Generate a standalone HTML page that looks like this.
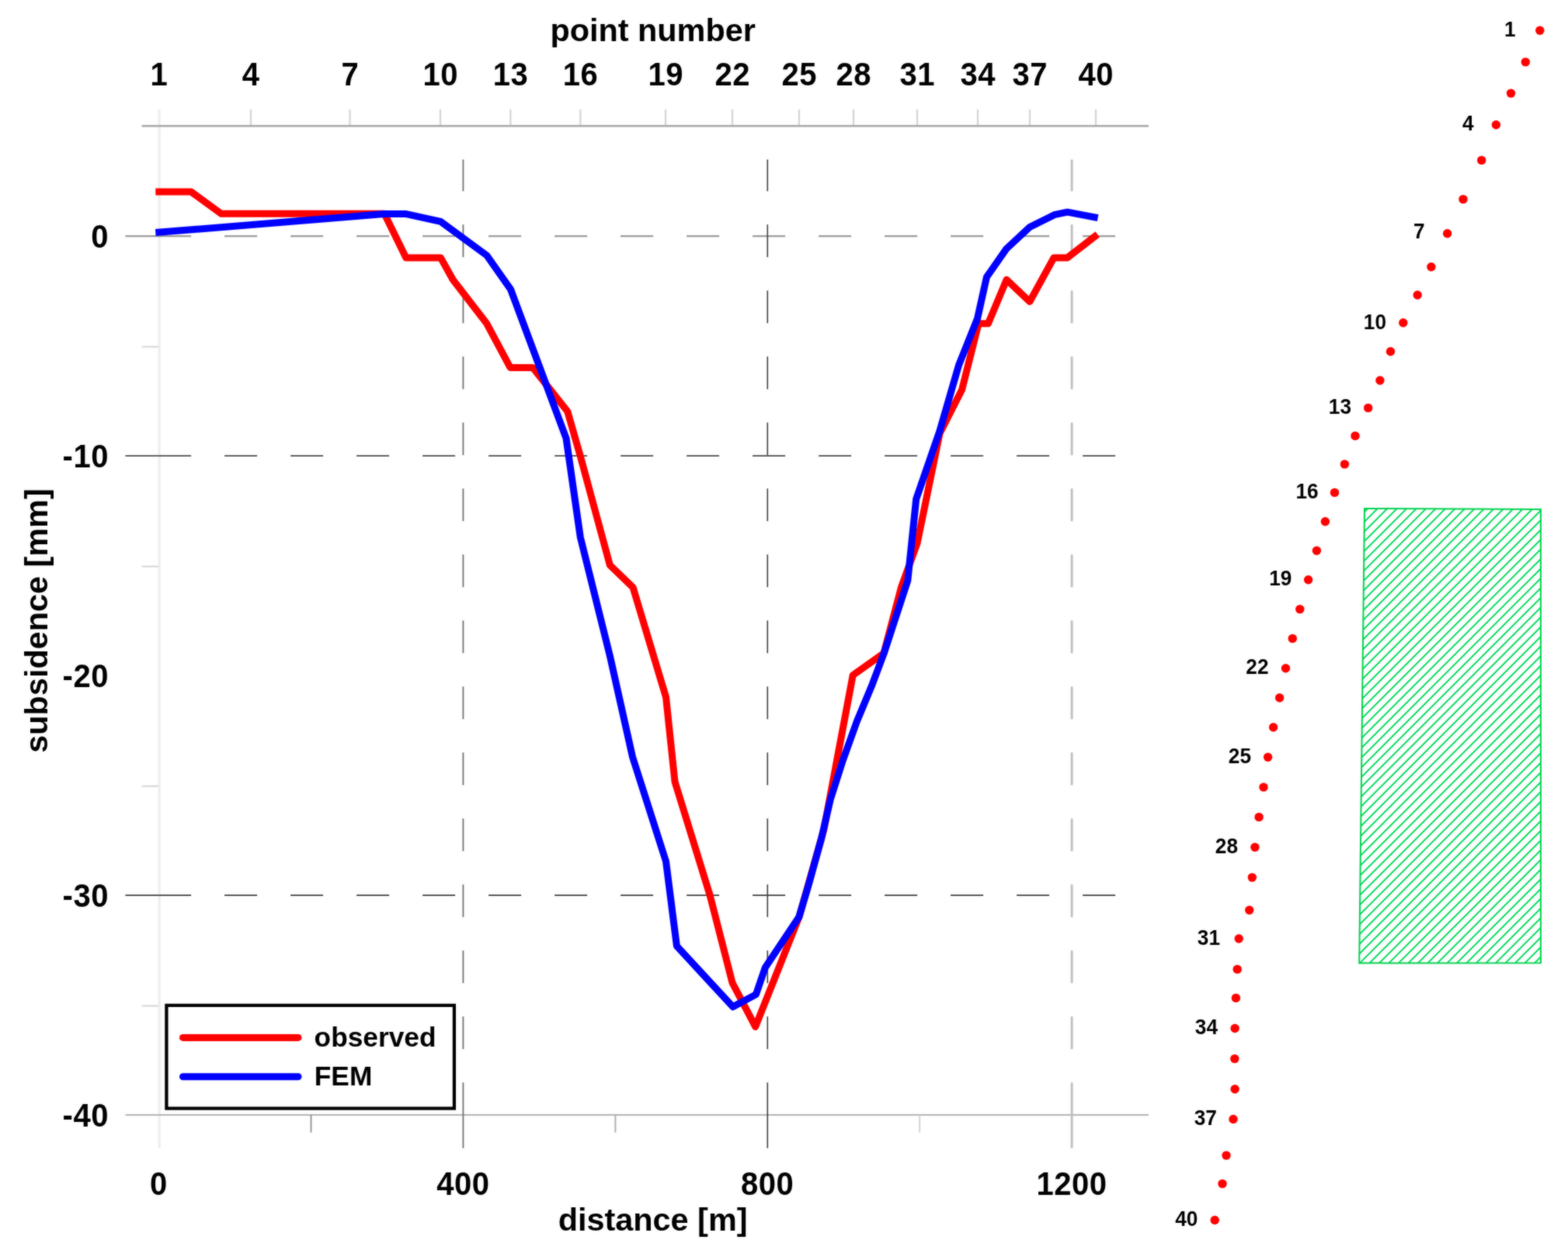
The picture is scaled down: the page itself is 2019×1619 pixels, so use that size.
<!DOCTYPE html>
<html lang="en"><head><meta charset="utf-8"><title>Subsidence profile: observed vs FEM</title>
<style>
html,body{margin:0;padding:0;background:#fff;}
body{width:2019px;height:1619px;overflow:hidden;}
svg{display:block;}
.soft{filter:blur(1px);opacity:0.5;}
text{font-family:"Liberation Sans",Arial,Helvetica,sans-serif;font-weight:bold;fill:#000;}
.tk{font-size:40px;letter-spacing:0.5px;}
.ttl{font-size:41.4px;}
.lg{font-size:35.3px;}
.pl{font-size:26.2px;}
</style></head><body>
<svg xmlns="http://www.w3.org/2000/svg" width="2019" height="1619" viewBox="0 0 2019 1619">
<g id="fig">
<rect x="0" y="0" width="2019" height="1619" fill="#fff"/>
<g fill="none" stroke-linecap="butt">
<line x1="205.2" y1="141" x2="205.2" y2="1478.8" stroke="#eeeeee" stroke-width="3.2"/>
<line x1="323" y1="141" x2="323" y2="162.3" stroke="#d4d4d4" stroke-width="2.2"/>
<line x1="450.5" y1="141" x2="450.5" y2="162.3" stroke="#d4d4d4" stroke-width="2.2"/>
<line x1="567" y1="141" x2="567" y2="162.3" stroke="#d4d4d4" stroke-width="2.2"/>
<line x1="657.3" y1="141" x2="657.3" y2="162.3" stroke="#d4d4d4" stroke-width="2.2"/>
<line x1="747.3" y1="141" x2="747.3" y2="162.3" stroke="#d4d4d4" stroke-width="2.2"/>
<line x1="857" y1="141" x2="857" y2="162.3" stroke="#d4d4d4" stroke-width="2.2"/>
<line x1="943" y1="141" x2="943" y2="162.3" stroke="#d4d4d4" stroke-width="2.2"/>
<line x1="1029" y1="141" x2="1029" y2="162.3" stroke="#d4d4d4" stroke-width="2.2"/>
<line x1="1099" y1="141" x2="1099" y2="162.3" stroke="#d4d4d4" stroke-width="2.2"/>
<line x1="1181" y1="141" x2="1181" y2="162.3" stroke="#d4d4d4" stroke-width="2.2"/>
<line x1="1259" y1="141" x2="1259" y2="162.3" stroke="#d4d4d4" stroke-width="2.2"/>
<line x1="1326" y1="141" x2="1326" y2="162.3" stroke="#d4d4d4" stroke-width="2.2"/>
<line x1="1411" y1="141" x2="1411" y2="162.3" stroke="#d4d4d4" stroke-width="2.2"/>
<line x1="182.6" y1="162.3" x2="1479" y2="162.3" stroke="#a6a6a6" stroke-width="2.4"/>
<line x1="161.5" y1="1436.0" x2="1479" y2="1436.0" stroke="#b4b4b4" stroke-width="1.8"/>
<line x1="182.6" y1="446.6" x2="204" y2="446.6" stroke="#d6d6d6" stroke-width="2"/>
<line x1="182.6" y1="729.6" x2="204" y2="729.6" stroke="#d6d6d6" stroke-width="2"/>
<line x1="182.6" y1="1012.6" x2="204" y2="1012.6" stroke="#d6d6d6" stroke-width="2"/>
<line x1="182.6" y1="1295.6" x2="204" y2="1295.6" stroke="#d6d6d6" stroke-width="2"/>
<line x1="161.5" y1="304.2" x2="204.2" y2="304.2" stroke="#9a9a9a" stroke-width="2.2"/>
<line x1="161.5" y1="587.2" x2="204.2" y2="587.2" stroke="#4a4a4a" stroke-width="1.7"/>
<line x1="161.5" y1="1153.2" x2="204.2" y2="1153.2" stroke="#3c3c3c" stroke-width="1.7"/>
<line x1="400.5" y1="1436.0" x2="400.5" y2="1458.6" stroke="#8c8c8c" stroke-width="1.8"/>
<line x1="792.4" y1="1436.0" x2="792.4" y2="1458.6" stroke="#a8a8a8" stroke-width="1.8"/>
<line x1="1184.2" y1="1436.0" x2="1184.2" y2="1458.6" stroke="#d0d0d0" stroke-width="1.8"/>
<line x1="596.4" y1="1436.0" x2="596.4" y2="1478.8" stroke="#707070" stroke-width="1.8"/>
<line x1="988.3" y1="1436.0" x2="988.3" y2="1478.8" stroke="#3c3c3c" stroke-width="1.6"/>
<line x1="1380.1" y1="1436.0" x2="1380.1" y2="1478.8" stroke="#bdbdbd" stroke-width="2.8"/>
<line x1="204.1" y1="304.2" x2="1436.1" y2="304.2" stroke="#9a9a9a" stroke-width="2.2" stroke-dasharray="42 43"/>
<line x1="204.1" y1="587.2" x2="1436.1" y2="587.2" stroke="#4a4a4a" stroke-width="1.7" stroke-dasharray="42 43"/>
<line x1="204.1" y1="1153.2" x2="1436.1" y2="1153.2" stroke="#3c3c3c" stroke-width="1.7" stroke-dasharray="42 43"/>
<line x1="596.4" y1="1436.2" x2="596.4" y2="205.5" stroke="#707070" stroke-width="1.8" stroke-dasharray="42 43"/>
<line x1="988.3" y1="1436.2" x2="988.3" y2="205.5" stroke="#3c3c3c" stroke-width="1.6" stroke-dasharray="42 43"/>
<line x1="1380.1" y1="1436.2" x2="1380.1" y2="205.5" stroke="#bdbdbd" stroke-width="2.8" stroke-dasharray="42 43"/>
</g>
<polyline points="200.3,247.0 246.0,247.0 285.0,275.3 495.0,275.3 522.8,331.9 567.4,331.9 583.2,360.2 626.8,416.8 657.0,473.4 686.0,473.4 730.8,530.0 747.0,586.6 785.4,728.1 815.0,756.4 857.5,897.9 869.0,1006.9 914.0,1152.6 943.0,1265.8 972.7,1322.4 1029.0,1180.9 1061.0,1067.7 1098.2,869.6 1138.0,841.3 1160.5,756.4 1181.0,699.8 1210.0,558.3 1238.7,501.7 1260.0,416.8 1272.4,416.8 1296.1,360.2 1325.9,388.5 1357.0,331.9 1374.4,331.9 1413.2,301.9" fill="none" stroke="#ff0000" stroke-width="9" stroke-linejoin="round" stroke-linecap="butt"/>
<polyline points="200.3,299.6 495.0,275.6 523.0,275.6 567.4,285.3 626.8,329.0 657.5,372.6 729.0,564.5 747.3,692.0 785.4,845.0 814.5,975.0 857.5,1109.5 871.4,1218.5 943.7,1296.8 973.4,1280.9 985.3,1246.2 1028.9,1180.9 1041.1,1140.0 1057.9,1079.0 1069.3,1029.5 1085.1,980.0 1103.4,929.0 1123.2,881.4 1138.0,842.0 1168.8,747.8 1179.7,642.8 1210.0,555.0 1234.7,469.8 1258.5,410.4 1270.4,356.9 1296.1,320.2 1325.9,292.5 1357.6,276.7 1374.4,273.2 1413.6,280.7" fill="none" stroke="#0000ff" stroke-width="9" stroke-linejoin="round" stroke-linecap="butt"/>
<rect x="214.4" y="1294.9" width="370.5" height="132.7" fill="#fff" stroke="#000" stroke-width="4.2"/>
<line x1="235.5" y1="1336.4" x2="384" y2="1336.4" stroke="#ff0000" stroke-width="9" stroke-linecap="round"/>
<line x1="235.5" y1="1386.8" x2="384" y2="1386.8" stroke="#0000ff" stroke-width="9" stroke-linecap="round"/>
<text class="lg" x="404.6" y="1348">observed</text>
<text class="lg" x="404.8" y="1398.4">FEM</text>
<text class="ttl" x="840.6" y="52.9" text-anchor="middle">point number</text>
<text class="tk" transform="translate(204.8,109.8) scale(1,1.065)" text-anchor="middle">1</text>
<text class="tk" transform="translate(323.2,109.8) scale(1,1.065)" text-anchor="middle">4</text>
<text class="tk" transform="translate(450.8,109.8) scale(1,1.065)" text-anchor="middle">7</text>
<text class="tk" transform="translate(567.2,109.8) scale(1,1.065)" text-anchor="middle">10</text>
<text class="tk" transform="translate(657.5,109.8) scale(1,1.065)" text-anchor="middle">13</text>
<text class="tk" transform="translate(747.5,109.8) scale(1,1.065)" text-anchor="middle">16</text>
<text class="tk" transform="translate(857.2,109.8) scale(1,1.065)" text-anchor="middle">19</text>
<text class="tk" transform="translate(943.2,109.8) scale(1,1.065)" text-anchor="middle">22</text>
<text class="tk" transform="translate(1029.2,109.8) scale(1,1.065)" text-anchor="middle">25</text>
<text class="tk" transform="translate(1099.2,109.8) scale(1,1.065)" text-anchor="middle">28</text>
<text class="tk" transform="translate(1181.2,109.8) scale(1,1.065)" text-anchor="middle">31</text>
<text class="tk" transform="translate(1259.2,109.8) scale(1,1.065)" text-anchor="middle">34</text>
<text class="tk" transform="translate(1326.2,109.8) scale(1,1.065)" text-anchor="middle">37</text>
<text class="tk" transform="translate(1411.2,109.8) scale(1,1.065)" text-anchor="middle">40</text>
<text class="tk" transform="translate(139.9,319.4) scale(1,1.065)" text-anchor="end">0</text>
<text class="tk" transform="translate(139.9,602.4) scale(1,1.065)" text-anchor="end">-10</text>
<text class="tk" transform="translate(139.9,885.4) scale(1,1.065)" text-anchor="end">-20</text>
<text class="tk" transform="translate(139.9,1168.4) scale(1,1.065)" text-anchor="end">-30</text>
<text class="tk" transform="translate(139.9,1451.4) scale(1,1.065)" text-anchor="end">-40</text>
<text class="tk" transform="translate(204.4,1539.4) scale(1,1.065)" text-anchor="middle">0</text>
<text class="tk" transform="translate(596.3,1539.4) scale(1,1.065)" text-anchor="middle">400</text>
<text class="tk" transform="translate(988.1,1539.4) scale(1,1.065)" text-anchor="middle">800</text>
<text class="tk" transform="translate(1379.9,1539.4) scale(1,1.065)" text-anchor="middle">1200</text>
<text class="ttl" x="840.6" y="1585" text-anchor="middle">distance [m]</text>
<text class="ttl" transform="translate(61.2,799.5) rotate(-90)" text-anchor="middle">subsidence [mm]</text>
<defs><clipPath id="blk"><polygon points="1757.0,655.0 1983.9,656.1 1983.9,1240.2 1750.2,1240.4"/></clipPath></defs>
<g clip-path="url(#blk)" stroke="#00da5c" stroke-width="1.9" fill="none">
<path d="M1748,668.3L1988,428.3M1748,680.8L1988,440.8M1748,693.3L1988,453.3M1748,705.8L1988,465.8M1748,718.3L1988,478.3M1748,730.8L1988,490.8M1748,743.3L1988,503.3M1748,755.8L1988,515.8M1748,768.3L1988,528.3M1748,780.8L1988,540.8M1748,793.3L1988,553.3M1748,805.8L1988,565.8M1748,818.3L1988,578.3M1748,830.8L1988,590.8M1748,843.3L1988,603.3M1748,855.8L1988,615.8M1748,868.3L1988,628.3M1748,880.8L1988,640.8M1748,893.3L1988,653.3M1748,905.8L1988,665.8M1748,918.3L1988,678.3M1748,930.8L1988,690.8M1748,943.3L1988,703.3M1748,955.8L1988,715.8M1748,968.3L1988,728.3M1748,980.8L1988,740.8M1748,993.3L1988,753.3M1748,1005.8L1988,765.8M1748,1018.3L1988,778.3M1748,1030.8L1988,790.8M1748,1043.3L1988,803.3M1748,1055.8L1988,815.8M1748,1068.3L1988,828.3M1748,1080.8L1988,840.8M1748,1093.3L1988,853.3M1748,1105.8L1988,865.8M1748,1118.3L1988,878.3M1748,1130.8L1988,890.8M1748,1143.3L1988,903.3M1748,1155.8L1988,915.8M1748,1168.3L1988,928.3M1748,1180.8L1988,940.8M1748,1193.3L1988,953.3M1748,1205.8L1988,965.8M1748,1218.3L1988,978.3M1748,1230.8L1988,990.8M1748,1243.3L1988,1003.3M1748,1255.8L1988,1015.8M1748,1268.3L1988,1028.3M1748,1280.8L1988,1040.8M1748,1293.3L1988,1053.3M1748,1305.8L1988,1065.8M1748,1318.3L1988,1078.3M1748,1330.8L1988,1090.8M1748,1343.3L1988,1103.3M1748,1355.8L1988,1115.8M1748,1368.3L1988,1128.3M1748,1380.8L1988,1140.8M1748,1393.3L1988,1153.3M1748,1405.8L1988,1165.8M1748,1418.3L1988,1178.3M1748,1430.8L1988,1190.8M1748,1443.3L1988,1203.3M1748,1455.8L1988,1215.8M1748,1468.3L1988,1228.3"/>
</g>
<polygon points="1757.0,655.0 1983.9,656.1 1983.9,1240.2 1750.2,1240.4" fill="none" stroke="#00d24c" stroke-width="2.0" stroke-linejoin="miter"/>
<g fill="#ff0000">
<circle cx="1982.8" cy="39.3" r="5.7"/>
<circle cx="1964.3" cy="79.9" r="5.7"/>
<circle cx="1945.5" cy="120.1" r="5.7"/>
<circle cx="1926.4" cy="160.7" r="5.7"/>
<circle cx="1907.7" cy="206.4" r="5.7"/>
<circle cx="1884" cy="256.6" r="5.7"/>
<circle cx="1863.6" cy="300.7" r="5.7"/>
<circle cx="1842.9" cy="343.7" r="5.7"/>
<circle cx="1825.2" cy="380" r="5.7"/>
<circle cx="1806.8" cy="415.8" r="5.7"/>
<circle cx="1790.5" cy="452.7" r="5.7"/>
<circle cx="1776.9" cy="490" r="5.7"/>
<circle cx="1761.7" cy="525.4" r="5.7"/>
<circle cx="1745" cy="561.4" r="5.7"/>
<circle cx="1731.4" cy="597.9" r="5.7"/>
<circle cx="1718.5" cy="634.4" r="5.7"/>
<circle cx="1706.4" cy="671.7" r="5.7"/>
<circle cx="1695.4" cy="709.3" r="5.7"/>
<circle cx="1684.6" cy="746.8" r="5.7"/>
<circle cx="1673.8" cy="784.6" r="5.7"/>
<circle cx="1664.3" cy="822.4" r="5.7"/>
<circle cx="1655.5" cy="860.7" r="5.7"/>
<circle cx="1647.6" cy="898.7" r="5.7"/>
<circle cx="1639.6" cy="936.8" r="5.7"/>
<circle cx="1632.6" cy="975.3" r="5.7"/>
<circle cx="1627" cy="1013.9" r="5.7"/>
<circle cx="1621.1" cy="1052.4" r="5.7"/>
<circle cx="1615.9" cy="1091.3" r="5.7"/>
<circle cx="1612.3" cy="1130.1" r="5.7"/>
<circle cx="1608.7" cy="1172.2" r="5.7"/>
<circle cx="1595.2" cy="1209" r="5.7"/>
<circle cx="1593.2" cy="1248.4" r="5.7"/>
<circle cx="1591.4" cy="1285.4" r="5.7"/>
<circle cx="1590.1" cy="1324.5" r="5.7"/>
<circle cx="1589.8" cy="1363.6" r="5.7"/>
<circle cx="1590.1" cy="1402.7" r="5.7"/>
<circle cx="1588" cy="1441.5" r="5.7"/>
<circle cx="1579" cy="1488.1" r="5.7"/>
<circle cx="1574" cy="1524.6" r="5.7"/>
<circle cx="1564.2" cy="1571.5" r="5.7"/>
</g>
<text class="pl" transform="translate(1951.5,46.9) scale(1,1.07)" text-anchor="end">1</text>
<text class="pl" transform="translate(1897.5,167.9) scale(1,1.07)" text-anchor="end">4</text>
<text class="pl" transform="translate(1834.5,307.4) scale(1,1.07)" text-anchor="end">7</text>
<text class="pl" transform="translate(1785,423.7) scale(1,1.07)" text-anchor="end">10</text>
<text class="pl" transform="translate(1740,532.9) scale(1,1.07)" text-anchor="end">13</text>
<text class="pl" transform="translate(1697.6,642.4) scale(1,1.07)" text-anchor="end">16</text>
<text class="pl" transform="translate(1663.4,753.9) scale(1,1.07)" text-anchor="end">19</text>
<text class="pl" transform="translate(1633.5,867.9) scale(1,1.07)" text-anchor="end">22</text>
<text class="pl" transform="translate(1611,983.2) scale(1,1.07)" text-anchor="end">25</text>
<text class="pl" transform="translate(1594,1098.9) scale(1,1.07)" text-anchor="end">28</text>
<text class="pl" transform="translate(1571,1217.4) scale(1,1.07)" text-anchor="end">31</text>
<text class="pl" transform="translate(1568,1332.4) scale(1,1.07)" text-anchor="end">34</text>
<text class="pl" transform="translate(1566.9,1449.1) scale(1,1.07)" text-anchor="end">37</text>
<text class="pl" transform="translate(1542.4,1579.1) scale(1,1.07)" text-anchor="end">40</text>
</g>
<use href="#fig" class="soft"/>
</svg>
</body></html>
